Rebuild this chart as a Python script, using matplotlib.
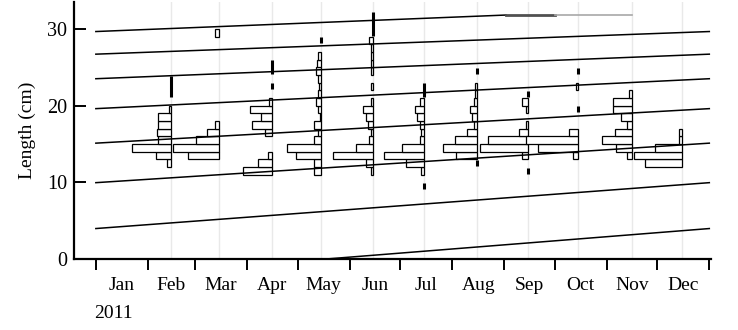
import numpy as np
import matplotlib
matplotlib.use("Agg")
from matplotlib import pyplot as plt

plt.rcParams['font.family'] = ['Liberation Serif', 'DejaVu Serif']

# length-frequency samples, 2011 (bin lower edge in cm, relative frequency)
months = ["Jan", "Feb", "Mar", "Apr", "May", "Jun", "Jul", "Aug", "Sep", "Oct", "Nov", "Dec"]
sample_dates = ["2011-02-15", "2011-03-15", "2011-04-16", "2011-05-15", "2011-06-15",
                "2011-07-15", "2011-08-16", "2011-09-15", "2011-10-15", "2011-11-16", "2011-12-16"]

feb = [(12, 4.8), (13, 15.5), (14, 39.5), (15, 13), (16, 14.5), (17, 13), (18, 13), (19, 2.7)]
mar = [(13, 30.7), (14, 46), (15, 22.3), (16, 11.5), (17, 3.3), (29, 3.3)]
apr = [(11, 29.7), (12, 14.7), (13, 4.7), (16, 7.7), (17, 20.3), (18, 11.3), (19, 22.7), (20, 3.7)]
may = [(11, 7), (12, 7), (13, 25.3), (14, 33.7), (15, 7), (16, 2.7), (17, 7), (18, 1.3),
       (19, 2.7), (20, 5.3), (21, 2.7), (22, 2), (23, 2.7), (24, 5.3), (25, 3.7), (26, 2.7)]
jun = [(11, 2), (12, 7), (13, 40.5), (14, 17), (15, 3.7), (16, 2), (17, 5.5), (18, 7.5),
       (19, 9.7), (20, 2), (22, 2), (24, 2), (25, 2), (26, 2), (27, 2), (28, 3.7)]
jul = [(11, 2.3), (12, 18), (13, 39.7), (14, 21.3), (15, 4), (16, 2.3), (17, 4), (18, 6.3),
       (19, 9), (20, 4)]
aug = [(13, 21), (14, 34.3), (15, 22), (16, 10.3), (17, 3.7), (18, 5.3), (19, 7), (20, 3.7),
       (21, 2), (22, 2)]
sep = [(13, 5.3), (14, 48), (15, 39.7), (16, 9), (17, 2), (19, 2), (20, 5.3)]
oct_ = [(13, 4.8), (14, 40.7), (15, 52), (16, 9.5), (22, 2)]
nov = [(13, 5.3), (14, 16), (15, 30.3), (16, 17), (17, 5.3), (18, 11.3), (19, 18.7), (20, 18.7), (21, 2.7)]
dec = [(12, 37.7), (13, 48.7), (14, 27.7), (15, 3.7), (16, 3.7)]
samples = [feb, mar, apr, may, jun, jul, aug, sep, oct_, nov, dec]

# empty bins shown as black marks on the sample line
black = [[(21, 24)], [], [(22, 23), (24, 26)], [(28, 29)], [(29, 32.3)],
         [(9, 10), (21, 23)], [(12, 13), (24, 25)], [(11, 12), (21, 22)],
         [(19, 20), (24, 25)], [], []]

# growth curves: length on 1 Jan 2011 -> length on 1 Jan 2012
len_start = [3.97, 9.95, 15.1, 19.6, 23.5, 26.7]
len_end = [9.95, 15.1, 19.6, 23.5, 26.7, 29.65]
recruit_date = "2011-05-18"
top_curve_dates = ["2011-01-01", "2011-09-02", "2011-10-01", "2011-11-16"]
top_curve_len = [29.65, 31.8, 31.8, 31.8]


def day(s):
    return (np.datetime64(s) - np.datetime64("2011-01-01")).astype(float)


scale = 0.595  # days per frequency unit

fig = plt.figure(figsize=(7.38, 3.30), dpi=100)
ax = fig.add_axes([74 / 738, 71 / 330, 637 / 738, 257 / 330])

xs = [day(d) for d in sample_dates]
for x in xs:
    ax.axvline(x, color='#e9e9e9', lw=1, zorder=0)

for x, hist, blk in zip(xs, samples, black):
    b = [h[0] for h in hist]
    w = [-h[1] * scale for h in hist]
    ax.barh(b, w, left=x, height=1, align='edge', color='white',
            edgecolor='black', lw=0.9, zorder=2)
    for lo, hi in blk:
        ax.plot([x, x], [lo + 0.12, hi - 0.12], color='black', lw=2.2,
                solid_capstyle='butt', zorder=3)

x0 = day("2011-01-01")
x1 = day("2012-01-01")
for a, b in zip(len_start, len_end):
    ax.plot([x0, x1], [a, b], color='black', lw=1.1, zorder=4)
ax.plot([day(recruit_date), x1], [0, len_start[0]], color='black', lw=1.1, zorder=4)
td = [day(d) for d in top_curve_dates]
ax.plot(td[:2], top_curve_len[:2], color='black', lw=1.1, zorder=4)
ax.plot(td[1:3], top_curve_len[1:3], color='#505050', lw=2.0, zorder=4)
ax.plot(td[2:4], top_curve_len[2:4], color='#a8a8a8', lw=1.2, zorder=4)

ax.set_xlim(day("2010-12-19"), day("2012-01-02"))
ax.set_ylim(0, 33.5)

month_starts = [day("2011-%02d-01" % m) for m in range(1, 13)] + [x1]
ax.set_xticks(month_starts)
ax.set_xticklabels([])
ax.set_xticks([(month_starts[i] + month_starts[i + 1]) / 2 for i in range(12)], minor=True)
ax.set_xticklabels(months, minor=True, fontsize=14)
ax.tick_params(axis='x', which='major', direction='out', length=8, width=1.4)
ax.tick_params(axis='x', which='minor', length=0, pad=13)
ax.set_yticks([0, 10, 20, 30])
ax.tick_params(axis='y', direction='in', length=8.5, width=1.4, labelsize=14.5, pad=5)

for s in ['top', 'right']:
    ax.spines[s].set_visible(False)
for s in ['left', 'bottom']:
    ax.spines[s].set_linewidth(1.6)

ax.set_ylabel("Length (cm)", fontsize=14)
ax.yaxis.set_label_coords(-38 / 637, 0.5)
fig.text(94 / 738, 1 - 313 / 330, "2011", fontsize=14, ha='left', va='center')

fig.savefig("out.png", dpi=100)
